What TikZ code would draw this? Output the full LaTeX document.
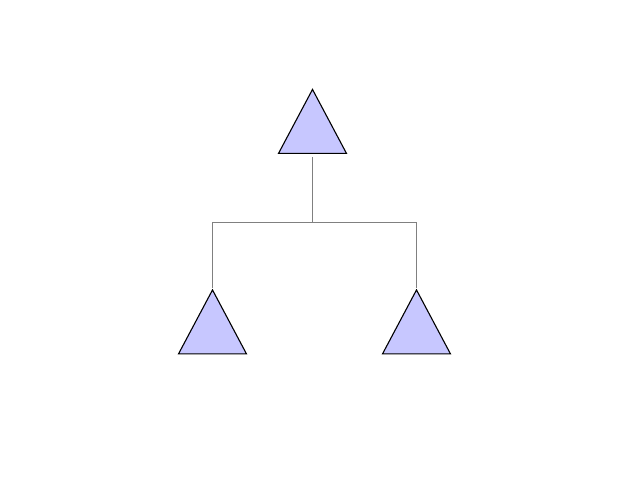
\documentclass[tikz,border=0pt]{standalone}
\usepackage{tikz}
\usetikzlibrary{shapes.geometric}

\begin{document}
\begin{tikzpicture}[x = 1pt, y = -1pt]
	\tikzset{
		tri/.style = {draw, line width = 1.1pt, fill = blue!22, isosceles triangle, isosceles triangle stretches, shape border rotate = 90, minimum width = 68pt, minimum height = 64pt, inner sep = 0pt, anchor = apex},
		link/.style = {draw = gray, line width = 0.8pt}
	}
	\useasboundingbox (0,0) rectangle (638,478);
	\node [tri] (top) at (312.5,88) {};
	\node [tri] (left) at (212.5,288.5) {};
	\node [tri] (right) at (416.5,288.5) {};
	\coordinate (bar) at (312.5,222);
	\draw [link, shorten <= 3pt] (top.lower side) -- (bar);
	\draw [link] (left.apex) -- (left.apex |- bar) -- (right.apex |- bar) -- (right.apex);
\end{tikzpicture}
\end{document}
